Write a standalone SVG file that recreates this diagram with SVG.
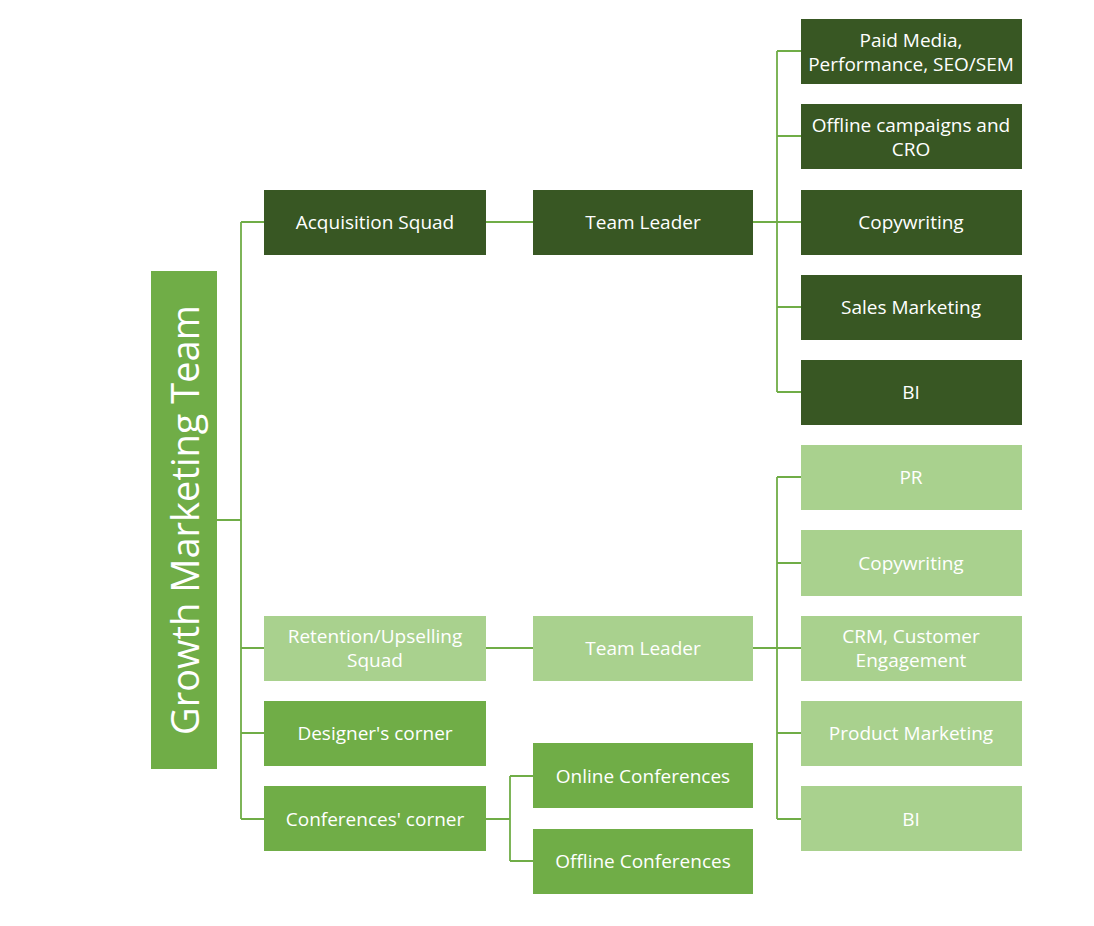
<svg xmlns="http://www.w3.org/2000/svg" width="1094" height="926" viewBox="0 0 1094 926">
<style>
.d{fill:#385723}.l{fill:#A9D18E}.m{fill:#70AD47}
text{font-family:"Open Sans","Liberation Sans",sans-serif;font-size:19px;fill:#fff;text-anchor:middle;dominant-baseline:central}
#c path{stroke:#70AD47;stroke-width:1.8;fill:none}
</style>
<rect width="1094" height="926" fill="#fff"/>
<g id="c">
<path d="M217 520H241M241 222V819M241 222H264M241 648H264M241 733H264M241 819H264"/>
<path d="M486 222H533M753 222H777M777 51V392M777 51H801M777 136H801M777 222H801M777 307H801M777 392H801"/>
<path d="M486 648H533M753 648H777M777 477V819M777 477H801M777 563H801M777 648H801M777 733H801M777 819H801"/>
<path d="M486 819H510M510 776V861M510 776H533M510 861H533"/>
</g>
<g id="root"><rect class="m" x="151" y="271" width="66" height="498"/><text transform="translate(184 520) rotate(-90)" style="font-size:38px">Growth Marketing Team</text></g>
<g id="acq"><rect class="d" x="264" y="190" width="222" height="65"/><text x="375" y="222">Acquisition Squad</text></g>
<g id="tl1"><rect class="d" x="533" y="190" width="220" height="65"/><text x="643" y="222">Team Leader</text></g>
<g id="a1"><rect class="d" x="801" y="19" width="221" height="65"/><text x="911" y="40">Paid Media,</text><text x="911" y="64">Performance, SEO/SEM</text></g>
<g id="a2"><rect class="d" x="801" y="104" width="221" height="65"/><text x="911" y="125">Offline campaigns and</text><text x="911" y="149">CRO</text></g>
<g id="a3"><rect class="d" x="801" y="190" width="221" height="65"/><text x="911" y="222">Copywriting</text></g>
<g id="a4"><rect class="d" x="801" y="275" width="221" height="65"/><text x="911" y="307">Sales Marketing</text></g>
<g id="a5"><rect class="d" x="801" y="360" width="221" height="65"/><text x="911" y="392">BI</text></g>
<g id="r1"><rect class="l" x="801" y="445" width="221" height="65"/><text x="911" y="477">PR</text></g>
<g id="r2"><rect class="l" x="801" y="530" width="221" height="66"/><text x="911" y="563">Copywriting</text></g>
<g id="r3"><rect class="l" x="801" y="616" width="221" height="65"/><text x="911" y="636">CRM, Customer</text><text x="911" y="660">Engagement</text></g>
<g id="r4"><rect class="l" x="801" y="701" width="221" height="65"/><text x="911" y="733">Product Marketing</text></g>
<g id="r5"><rect class="l" x="801" y="786" width="221" height="65"/><text x="911" y="819">BI</text></g>
<g id="ret"><rect class="l" x="264" y="616" width="222" height="65"/><text x="375" y="636">Retention/Upselling</text><text x="375" y="660">Squad</text></g>
<g id="tl2"><rect class="l" x="533" y="616" width="220" height="65"/><text x="643" y="648">Team Leader</text></g>
<g id="des"><rect class="m" x="264" y="701" width="222" height="65"/><text x="375" y="733">Designer's corner</text></g>
<g id="conf"><rect class="m" x="264" y="786" width="222" height="65"/><text x="375" y="819">Conferences' corner</text></g>
<g id="on"><rect class="m" x="533" y="743" width="220" height="65"/><text x="643" y="776">Online Conferences</text></g>
<g id="off"><rect class="m" x="533" y="829" width="220" height="65"/><text x="643" y="861">Offline Conferences</text></g>
</svg>
